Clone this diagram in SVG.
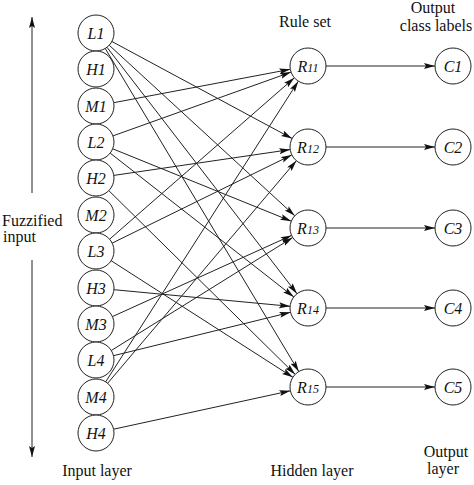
<svg xmlns="http://www.w3.org/2000/svg" width="474" height="485" viewBox="0 0 474 485">
<style>
.n{fill:#fff;stroke:#222;stroke-width:1}
.t{font-family:"Liberation Serif","Times New Roman",serif;font-style:italic;font-size:16px;fill:#111;text-anchor:middle}
.s{font-size:12px}
.lab{font-family:"Liberation Serif","Times New Roman",serif;font-size:16px;fill:#111}
.e{stroke:#222;stroke-width:1;fill:none;marker-end:url(#ah)}
</style>
<defs>
<marker id="ah" markerUnits="userSpaceOnUse" markerWidth="12" markerHeight="8" refX="11" refY="3" orient="auto">
<path d="M0,0 L11,3 L0,6 L2,3 Z" fill="#111"/>
</marker>
</defs>
<rect width="474" height="485" fill="#fff"/>
<g id="connectors">
<line class="e" x1="113.7" y1="102.7" x2="290.3" y2="69.3"/>
<line class="e" x1="112.9" y1="135.9" x2="291.1" y2="72.1"/>
<line class="e" x1="109.6" y1="239.2" x2="294.4" y2="77.8"/>
<line class="e" x1="105.7" y1="381.8" x2="298.3" y2="81.2"/>
<line class="e" x1="111.9" y1="41.5" x2="292.1" y2="138.5"/>
<line class="e" x1="113.8" y1="175.4" x2="290.2" y2="149.6"/>
<line class="e" x1="112.2" y1="243.1" x2="291.8" y2="154.9"/>
<line class="e" x1="107.6" y1="383.3" x2="296.4" y2="160.7"/>
<line class="e" x1="109.2" y1="45.2" x2="294.8" y2="215.8"/>
<line class="e" x1="112.7" y1="148.8" x2="291.3" y2="221.2"/>
<line class="e" x1="112.4" y1="316.6" x2="291.6" y2="235.4"/>
<line class="e" x1="111.3" y1="350.5" x2="292.7" y2="237.5"/>
<line class="e" x1="107.0" y1="47.3" x2="297.0" y2="293.7"/>
<line class="e" x1="110.2" y1="153.1" x2="293.8" y2="296.9"/>
<line class="e" x1="113.9" y1="289.7" x2="290.1" y2="306.3"/>
<line class="e" x1="113.5" y1="355.7" x2="290.5" y2="312.3"/>
<line class="e" x1="105.2" y1="48.4" x2="298.8" y2="371.6"/>
<line class="e" x1="108.8" y1="190.6" x2="295.2" y2="374.4"/>
<line class="e" x1="111.1" y1="260.7" x2="292.9" y2="377.3"/>
<line class="e" x1="113.6" y1="429.2" x2="290.4" y2="390.8"/>
<line class="e" x1="326" y1="66" x2="435" y2="66"/>
<line class="e" x1="326" y1="147" x2="435" y2="147"/>
<line class="e" x1="326" y1="228" x2="435" y2="228"/>
<line class="e" x1="326" y1="308" x2="435" y2="308"/>
<line class="e" x1="326" y1="387" x2="435" y2="387"/>
<line class="e" x1="32" y1="193" x2="32" y2="17"/>
<line class="e" x1="32" y1="260" x2="32" y2="457"/>
</g>
<g id="in-L1"><circle class="n" cx="96" cy="33" r="18"/><text class="t" x="96" y="39">L1</text></g>
<g id="in-H1"><circle class="n" cx="96" cy="69" r="18"/><text class="t" x="96" y="75">H1</text></g>
<g id="in-M1"><circle class="n" cx="96" cy="106" r="18"/><text class="t" x="96" y="112">M1</text></g>
<g id="in-L2"><circle class="n" cx="96" cy="142" r="18"/><text class="t" x="96" y="148">L2</text></g>
<g id="in-H2"><circle class="n" cx="96" cy="178" r="18"/><text class="t" x="96" y="184">H2</text></g>
<g id="in-M2"><circle class="n" cx="96" cy="215" r="18"/><text class="t" x="96" y="221">M2</text></g>
<g id="in-L3"><circle class="n" cx="96" cy="251" r="18"/><text class="t" x="96" y="257">L3</text></g>
<g id="in-H3"><circle class="n" cx="96" cy="288" r="18"/><text class="t" x="96" y="294">H3</text></g>
<g id="in-M3"><circle class="n" cx="96" cy="324" r="18"/><text class="t" x="96" y="330">M3</text></g>
<g id="in-L4"><circle class="n" cx="96" cy="360" r="18"/><text class="t" x="96" y="366">L4</text></g>
<g id="in-M4"><circle class="n" cx="96" cy="397" r="18"/><text class="t" x="96" y="403">M4</text></g>
<g id="in-H4"><circle class="n" cx="96" cy="433" r="18"/><text class="t" x="96" y="439">H4</text></g>
<g id="R11"><circle class="n" cx="308" cy="66" r="18"/><text class="t" x="308" y="72">R<tspan class="s">11</tspan></text></g>
<g id="R12"><circle class="n" cx="308" cy="147" r="18"/><text class="t" x="308" y="153">R<tspan class="s">12</tspan></text></g>
<g id="R13"><circle class="n" cx="308" cy="228" r="18"/><text class="t" x="308" y="234">R<tspan class="s">13</tspan></text></g>
<g id="R14"><circle class="n" cx="308" cy="308" r="18"/><text class="t" x="308" y="314">R<tspan class="s">14</tspan></text></g>
<g id="R15"><circle class="n" cx="308" cy="387" r="18"/><text class="t" x="308" y="393">R<tspan class="s">15</tspan></text></g>
<g id="C1"><circle class="n" cx="453" cy="66" r="18"/><text class="t" x="453" y="72">C1</text></g>
<g id="C2"><circle class="n" cx="453" cy="147" r="18"/><text class="t" x="453" y="153">C2</text></g>
<g id="C3"><circle class="n" cx="453" cy="228" r="18"/><text class="t" x="453" y="234">C3</text></g>
<g id="C4"><circle class="n" cx="453" cy="308" r="18"/><text class="t" x="453" y="314">C4</text></g>
<g id="C5"><circle class="n" cx="453" cy="387" r="18"/><text class="t" x="453" y="393">C5</text></g>
<g id="labels">
<text class="lab" x="305" y="27" text-anchor="middle">Rule set</text>
<text class="lab" x="433" y="13" text-anchor="middle">Output</text>
<text class="lab" x="436" y="31" text-anchor="middle">class labels</text>
<text class="lab" x="2" y="226">Fuzzified</text>
<text class="lab" x="3" y="242">input</text>
<text class="lab" x="97" y="476" text-anchor="middle">Input layer</text>
<text class="lab" x="312" y="476" text-anchor="middle">Hidden layer</text>
<text class="lab" x="446" y="457" text-anchor="middle">Output</text>
<text class="lab" x="443" y="474" text-anchor="middle">layer</text>
</g>
</svg>
